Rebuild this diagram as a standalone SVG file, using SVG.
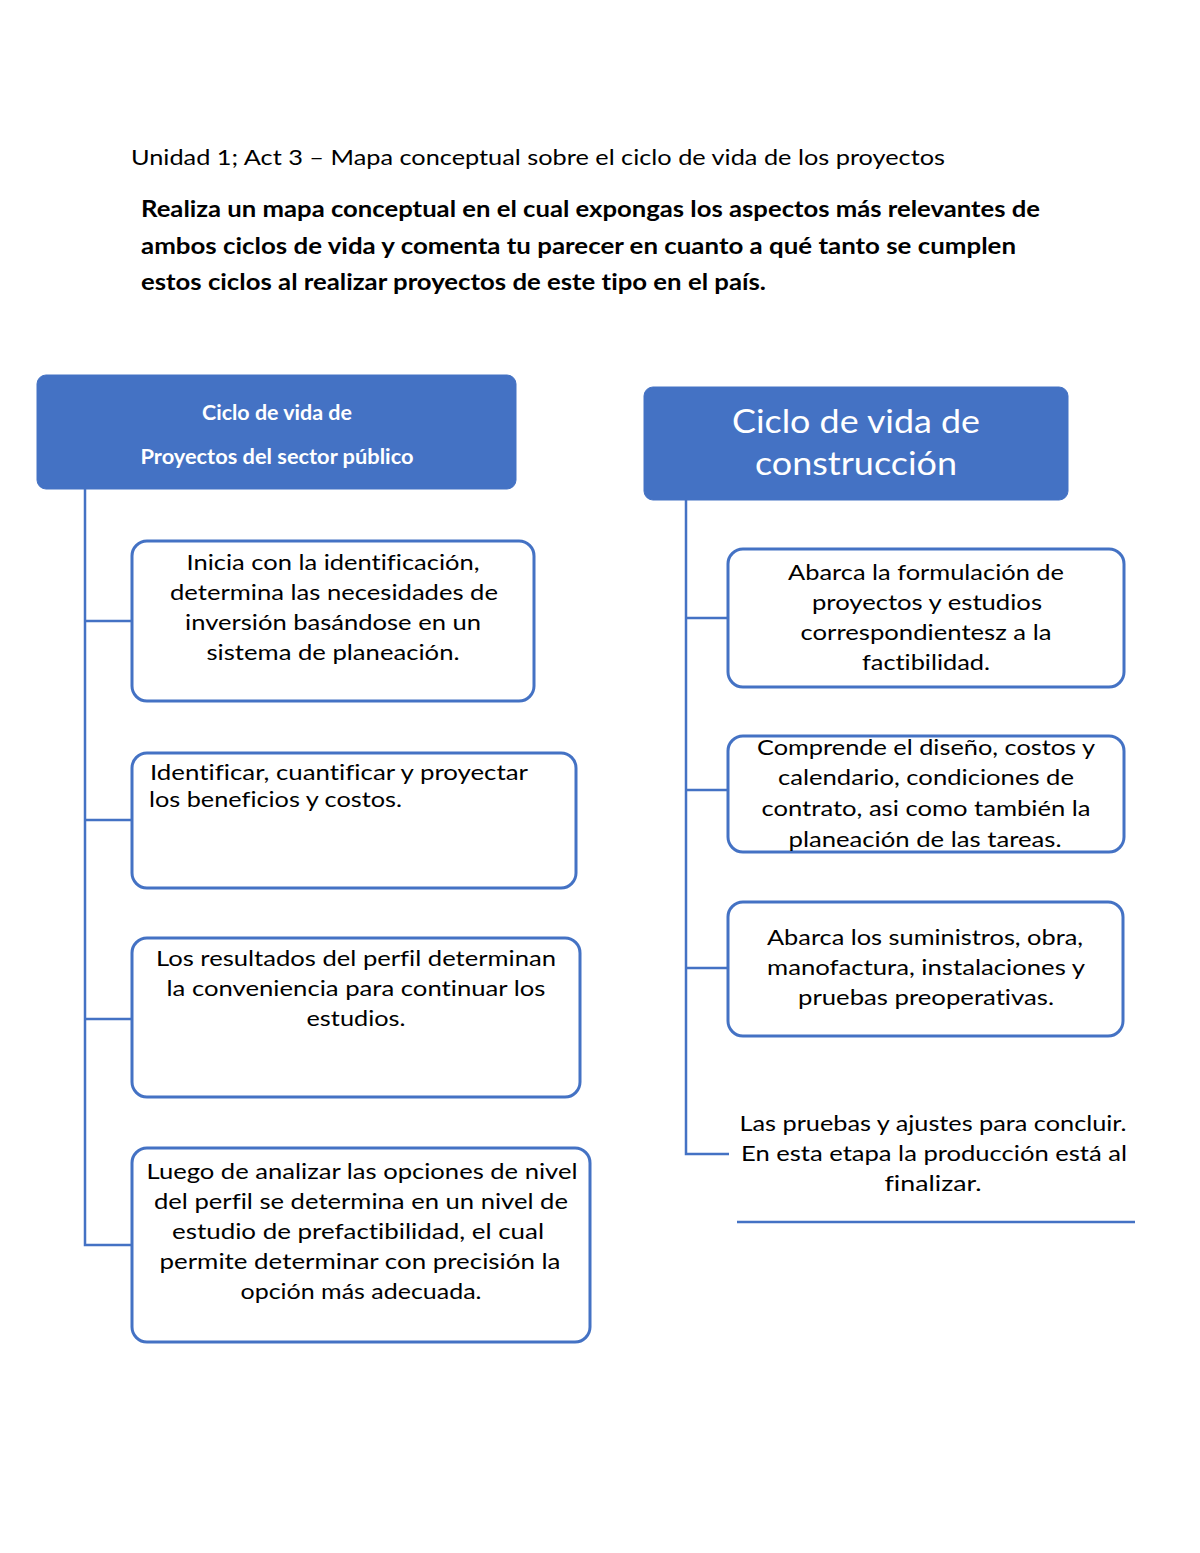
<svg xmlns="http://www.w3.org/2000/svg" width="1200" height="1553" viewBox="0 0 1200 1553">
<style>
.bg{fill:#ffffff}
.hdr{fill:#4472C4;stroke:#4472C4;stroke-width:1}
.box{fill:#ffffff;stroke:#4472C4;stroke-width:3}
.conn{fill:none;stroke:#4472C4;stroke-width:2.5}
text{font-variant-ligatures:none}
.t{font-family:Lato,"Liberation Sans",sans-serif;font-size:21px;fill:#000000}
.tc{text-anchor:middle}
.title{font-family:Lato,"Liberation Sans",sans-serif;font-size:22px;fill:#000000}
.bold{font-family:Lato,"Liberation Sans",sans-serif;font-size:22px;font-weight:bold;fill:#000000}
.hl{font-family:Lato,"Liberation Sans",sans-serif;font-size:20px;font-weight:bold;fill:#ffffff;text-anchor:middle}
.hr{font-family:Lato,"Liberation Sans",sans-serif;font-size:32px;fill:#ffffff;text-anchor:middle}
</style>
<rect class="bg" x="0" y="0" width="1200" height="1553"/>

<g id="heading">
<text class="title" x="131" y="165" textLength="814" lengthAdjust="spacingAndGlyphs">Unidad 1; Act 3 – Mapa conceptual sobre el ciclo de vida de los proyectos</text>
<text class="bold" x="141" y="217" textLength="899" lengthAdjust="spacingAndGlyphs">Realiza un mapa conceptual en el cual expongas los aspectos más relevantes de</text>
<text class="bold" x="141" y="254" textLength="875" lengthAdjust="spacingAndGlyphs">ambos ciclos de vida y comenta tu parecer en cuanto a qué tanto se cumplen</text>
<text class="bold" x="141" y="290" textLength="625" lengthAdjust="spacingAndGlyphs">estos ciclos al realizar proyectos de este tipo en el país.</text>
</g>

<g id="connectors">
<path class="conn" d="M85 489 V1245 H132"/>
<path class="conn" d="M85 621 H132"/>
<path class="conn" d="M85 820 H132"/>
<path class="conn" d="M85 1019 H132"/>
<path class="conn" d="M686 500 V1154 H729"/>
<path class="conn" d="M686 618 H728"/>
<path class="conn" d="M686 790 H728"/>
<path class="conn" d="M686 968 H728"/>
<path class="conn" d="M737 1222 H1135"/>
</g>

<g id="header-left">
<rect class="hdr" x="37" y="375" width="479" height="114" rx="9"/>
<text class="hl" x="277" y="420" textLength="150" lengthAdjust="spacingAndGlyphs">Ciclo de vida de</text>
<text class="hl" x="277" y="464" textLength="273" lengthAdjust="spacingAndGlyphs">Proyectos del sector público</text>
</g>

<g id="header-right">
<rect class="hdr" x="644" y="387" width="424" height="113" rx="9"/>
<text class="hr" x="856" y="433" textLength="248" lengthAdjust="spacingAndGlyphs">Ciclo de vida de</text>
<text class="hr" x="856" y="475" textLength="202" lengthAdjust="spacingAndGlyphs">construcción</text>
</g>

<g id="node-l1">
<rect class="box" x="132" y="541" width="402" height="160" rx="15"/>
<text class="t tc" x="333" y="570" textLength="293" lengthAdjust="spacingAndGlyphs">Inicia con la identificación,</text>
<text class="t tc" x="334" y="600" textLength="328" lengthAdjust="spacingAndGlyphs">determina las necesidades de</text>
<text class="t tc" x="333" y="630" textLength="296" lengthAdjust="spacingAndGlyphs">inversión basándose en un</text>
<text class="t tc" x="333" y="660" textLength="253" lengthAdjust="spacingAndGlyphs">sistema de planeación.</text>
</g>

<g id="node-l2">
<rect class="box" x="132" y="753" width="444" height="135" rx="15"/>
<text class="t" x="150" y="780" textLength="378" lengthAdjust="spacingAndGlyphs">Identificar, cuantificar y proyectar</text>
<text class="t" x="149" y="807" textLength="253" lengthAdjust="spacingAndGlyphs">los beneficios y costos.</text>
</g>

<g id="node-l3">
<rect class="box" x="132" y="938" width="448" height="159" rx="15"/>
<text class="t tc" x="356" y="966" textLength="400" lengthAdjust="spacingAndGlyphs">Los resultados del perfil determinan</text>
<text class="t tc" x="356" y="996" textLength="379" lengthAdjust="spacingAndGlyphs">la conveniencia para continuar los</text>
<text class="t tc" x="356" y="1026" textLength="99" lengthAdjust="spacingAndGlyphs">estudios.</text>
</g>

<g id="node-l4">
<rect class="box" x="132" y="1148" width="458" height="194" rx="15"/>
<text class="t tc" x="362" y="1179" textLength="431" lengthAdjust="spacingAndGlyphs">Luego de analizar las opciones de nivel</text>
<text class="t tc" x="361" y="1209" textLength="414" lengthAdjust="spacingAndGlyphs">del perfil se determina en un nivel de</text>
<text class="t tc" x="358" y="1239" textLength="372" lengthAdjust="spacingAndGlyphs">estudio de prefactibilidad, el cual</text>
<text class="t tc" x="360" y="1269" textLength="401" lengthAdjust="spacingAndGlyphs">permite determinar con precisión la</text>
<text class="t tc" x="361" y="1299" textLength="241" lengthAdjust="spacingAndGlyphs">opción más adecuada.</text>
</g>

<g id="node-r1">
<rect class="box" x="728" y="549" width="396" height="138" rx="15"/>
<text class="t tc" x="926" y="580" textLength="276" lengthAdjust="spacingAndGlyphs">Abarca la formulación de</text>
<text class="t tc" x="927" y="610" textLength="230" lengthAdjust="spacingAndGlyphs">proyectos y estudios</text>
<text class="t tc" x="926" y="640" textLength="251" lengthAdjust="spacingAndGlyphs">correspondientesz a la</text>
<text class="t tc" x="926" y="670" textLength="128" lengthAdjust="spacingAndGlyphs">factibilidad.</text>
</g>

<g id="node-r2">
<rect class="box" x="728" y="736" width="396" height="116" rx="15"/>
<text class="t tc" x="926" y="755" textLength="338" lengthAdjust="spacingAndGlyphs">Comprende el diseño, costos y</text>
<text class="t tc" x="926" y="785" textLength="296" lengthAdjust="spacingAndGlyphs">calendario, condiciones de</text>
<text class="t tc" x="926" y="816" textLength="329" lengthAdjust="spacingAndGlyphs">contrato, asi como también la</text>
<text class="t tc" x="925" y="847" textLength="273" lengthAdjust="spacingAndGlyphs">planeación de las tareas.</text>
</g>

<g id="node-r3">
<rect class="box" x="728" y="902" width="395" height="134" rx="15"/>
<text class="t tc" x="925" y="945" textLength="316" lengthAdjust="spacingAndGlyphs">Abarca los suministros, obra,</text>
<text class="t tc" x="926" y="975" textLength="318" lengthAdjust="spacingAndGlyphs">manofactura, instalaciones y</text>
<text class="t tc" x="926" y="1005" textLength="256" lengthAdjust="spacingAndGlyphs">pruebas preoperativas.</text>
</g>

<g id="node-r4">
<text class="t tc" x="933" y="1131" textLength="387" lengthAdjust="spacingAndGlyphs">Las pruebas y ajustes para concluir.</text>
<text class="t tc" x="934" y="1161" textLength="386" lengthAdjust="spacingAndGlyphs">En esta etapa la producción está al</text>
<text class="t tc" x="933" y="1191" textLength="97" lengthAdjust="spacingAndGlyphs">finalizar.</text>
</g>
</svg>
